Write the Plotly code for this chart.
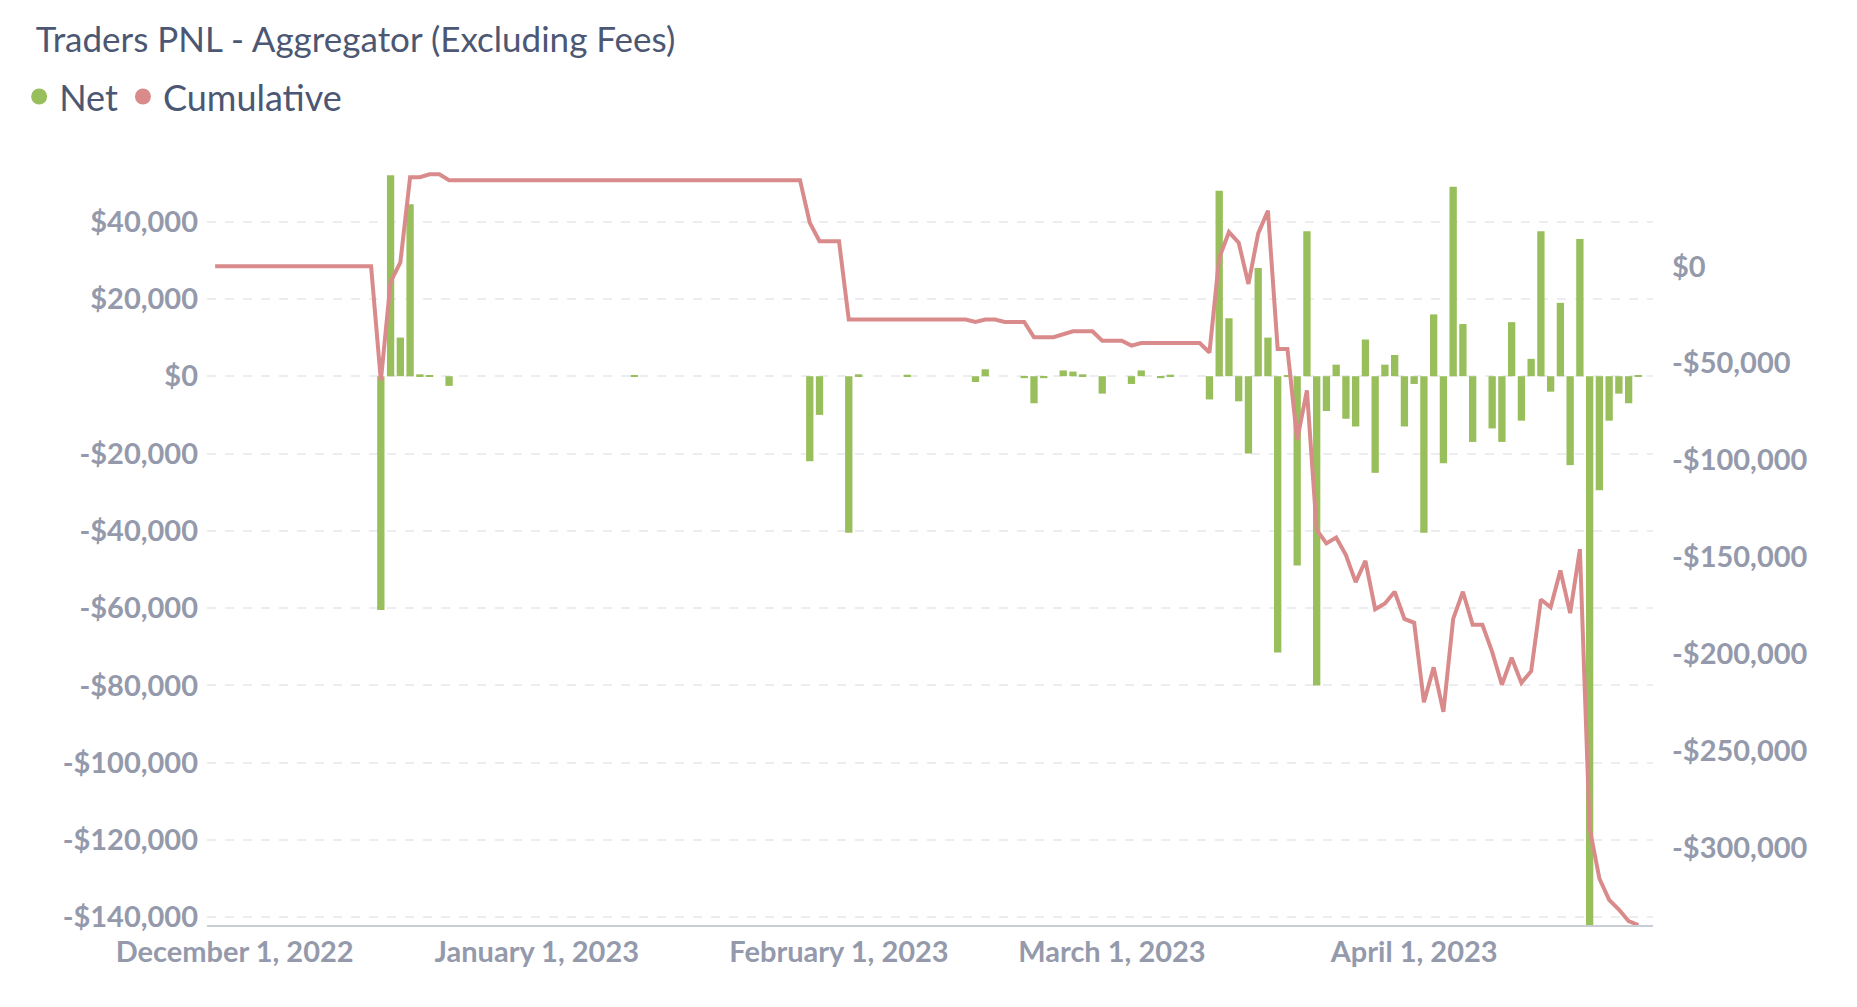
import plotly.graph_objects as go

# daily net PNL (days not listed are ~0)
net_dates = ["2022-12-16", "2022-12-17", "2022-12-18", "2022-12-19", "2022-12-20", "2022-12-21",
             "2022-12-23", "2023-01-11", "2023-01-29", "2023-01-30", "2023-02-02", "2023-02-03",
             "2023-02-08", "2023-02-15", "2023-02-16", "2023-02-20", "2023-02-21", "2023-02-22",
             "2023-02-24", "2023-02-25", "2023-02-26", "2023-02-28", "2023-03-03", "2023-03-04",
             "2023-03-06", "2023-03-07",
             "2023-03-11", "2023-03-12", "2023-03-13", "2023-03-14", "2023-03-15", "2023-03-16",
             "2023-03-17", "2023-03-18", "2023-03-19", "2023-03-20", "2023-03-21", "2023-03-22",
             "2023-03-23", "2023-03-24", "2023-03-25", "2023-03-26", "2023-03-27", "2023-03-28",
             "2023-03-29", "2023-03-30", "2023-03-31", "2023-04-01", "2023-04-02", "2023-04-03",
             "2023-04-04", "2023-04-05", "2023-04-06", "2023-04-07", "2023-04-08", "2023-04-09",
             "2023-04-10", "2023-04-11", "2023-04-12", "2023-04-13", "2023-04-14", "2023-04-15",
             "2023-04-16", "2023-04-17", "2023-04-18", "2023-04-19", "2023-04-20", "2023-04-21",
             "2023-04-22", "2023-04-23", "2023-04-24"]
net_values = [-60500, 52000, 10000, 44500, 500, 300,
              -2500, 300, -22000, -10000, -40500, 500,
              400, -1500, 1800, -500, -7000, -500,
              1500, 1200, 500, -4500, -2000, 1500,
              -500, 400,
              -6000, 48000, 15000, -6500, -20000, 28000,
              10000, -71500, 300, -49000, 37500, -80000,
              -9000, 3000, -11000, -13000, 9500, -25000,
              3000, 5500, -13000, -2000, -40500, 16000,
              -22500, 49000, 13500, -17000, 0, -13500,
              -17000, 14000, -11500, 4500, 37500, -4000,
              19000, -23000, 35500, -142000, -29500, -11500,
              -4500, -7000, 300]

# cumulative PNL
cum_dates = ["2022-11-29", "2022-12-15", "2022-12-16", "2022-12-17", "2022-12-18", "2022-12-19",
             "2022-12-20", "2022-12-21", "2022-12-22", "2022-12-23", "2023-01-28", "2023-01-29",
             "2023-01-30", "2023-02-01", "2023-02-02", "2023-02-14", "2023-02-15", "2023-02-16",
             "2023-02-17", "2023-02-18", "2023-02-20", "2023-02-21", "2023-02-23", "2023-02-24",
             "2023-02-25", "2023-02-27", "2023-02-28", "2023-03-02", "2023-03-03", "2023-03-04",
             "2023-03-10",
             "2023-03-11", "2023-03-12", "2023-03-13", "2023-03-14", "2023-03-15", "2023-03-16",
             "2023-03-17", "2023-03-18", "2023-03-19", "2023-03-20", "2023-03-21", "2023-03-22",
             "2023-03-23", "2023-03-24", "2023-03-25", "2023-03-26", "2023-03-27", "2023-03-28",
             "2023-03-29", "2023-03-30", "2023-03-31", "2023-04-01", "2023-04-02", "2023-04-03",
             "2023-04-04", "2023-04-05", "2023-04-06", "2023-04-07", "2023-04-08", "2023-04-09",
             "2023-04-10", "2023-04-11", "2023-04-12", "2023-04-13", "2023-04-14", "2023-04-15",
             "2023-04-16", "2023-04-17", "2023-04-18", "2023-04-19", "2023-04-20", "2023-04-21",
             "2023-04-22", "2023-04-23", "2023-04-24"]
cum_values = [0, 0, -59000, -8000, 2000, 46000,
              46000, 47500, 47500, 44500, 44500, 22500,
              13000, 13000, -27500, -27500, -28700, -27500,
              -27500, -28700, -28700, -36600, -36600, -34800,
              -33500, -33500, -38400, -38400, -40900, -39600,
              -39600,
              -44500, 4300, 17700, 12200, -9100, 17000,
              28700, -42700, -42700, -89600, -64000, -136000,
              -143000, -140000, -149000, -163000, -152000, -177000,
              -174000, -168000, -182000, -184000, -225000, -207000,
              -230000, -182000, -168000, -185000, -185000, -199000,
              -216000, -202000, -215000, -209000, -172000, -176000,
              -157000, -179000, -146000, -290000, -316000, -327000,
              -332000, -338000, -340000]

left_ticks = [40000, 20000, 0, -20000, -40000, -60000, -80000, -100000, -120000, -140000]
right_ticks = [0, -50000, -100000, -150000, -200000, -250000, -300000]
month_ticks = ["2022-12-01", "2023-01-01", "2023-02-01", "2023-03-01", "2023-04-01"]
month_labels = ["December 1, 2022", "January 1, 2023", "February 1, 2023", "March 1, 2023", "April 1, 2023"]

GREEN = "#98bf5b"
RED = "#d98b8b"
GREY = "#949aab"
FONT = "Lato"


def money(v):
    return ("-$" if v < 0 else "$") + f"{abs(v):,}"


fig = go.Figure()
fig.add_trace(go.Bar(x=net_dates, y=net_values, marker_color=GREEN, marker_line_width=0,
                     showlegend=False, name="Net"))
fig.add_trace(go.Scatter(x=cum_dates, y=cum_values, yaxis="y2", mode="lines",
                         line=dict(color=RED, width=4), showlegend=False, name="Cumulative"))
# legend entries with round markers
fig.add_trace(go.Scatter(x=[None], y=[None], mode="markers", name="Net",
                         marker=dict(color=GREEN, size=30, symbol="circle")))
fig.add_trace(go.Scatter(x=[None], y=[None], mode="markers", name="Cumulative",
                         marker=dict(color=RED, size=30, symbol="circle")))

fig.update_layout(
    width=1857, height=1007,
    margin=dict(l=199, r=212, t=158, b=90),
    plot_bgcolor="white", paper_bgcolor="white",
    font=dict(family=FONT, color=GREY),
    bargap=0.25,
    title=dict(text="Traders PNL - Aggregator (Excluding Fees)", x=0.015, xanchor="left",
               y=0.968, yanchor="middle", font=dict(size=35, color="#4c5773", family=FONT)),
    legend=dict(orientation="h", xref="container", yref="container", x=0.006, y=0.912,
                xanchor="left", yanchor="middle", font=dict(size=36, color="#4c5773"),
                itemsizing="trace"),
    xaxis=dict(type="date", range=["2022-11-28 04:00", "2023-04-25 12:00"],
               tickvals=month_ticks, ticktext=month_labels, showgrid=False,
               showline=True, linecolor="#c9ced6", linewidth=1.5, ticks="",
               tickfont=dict(size=29, color=GREY, weight="bold")),
    yaxis=dict(range=[-142000, 54400], tickvals=left_ticks,
               ticktext=[money(v) for v in left_ticks], showgrid=True,
               gridcolor="#ebedf0", griddash="dash", gridwidth=1.5, zeroline=False,
               tickfont=dict(size=29, color=GREY, weight="bold"), ticklabelstandoff=8),
    yaxis2=dict(overlaying="y", side="right", range=[-340000, 51800], tickvals=right_ticks,
                ticktext=[money(v) for v in right_ticks], showgrid=False, zeroline=False,
                tickfont=dict(size=29, color=GREY, weight="bold"), ticklabelstandoff=18),
)

fig.write_html("out.html")
